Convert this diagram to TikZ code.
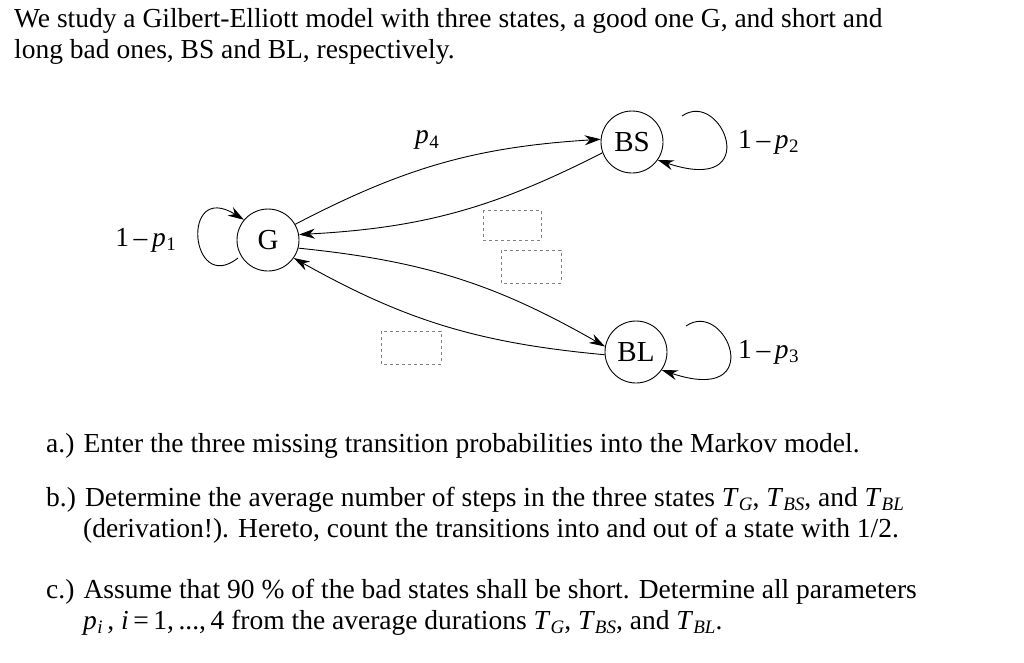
\documentclass[tikz,border=0pt]{standalone}
\usepackage{fontspec}
\setmainfont{Liberation Serif}
\usetikzlibrary{arrows.meta}
\newcommand{\vp}[1]{\textit{p}\kern0.5pt\raisebox{-4.5pt}{\fontsize{19}{19}\selectfont #1}}
\newcommand{\vT}[1]{\textit{T}\raisebox{-4.5pt}{\fontsize{19}{19}\selectfont\textit{#1}}}
\begin{document}
\begin{tikzpicture}[x=1pt,y=-1pt,
  txt/.style={anchor=base west,inner sep=0pt,font=\fontsize{27.5}{30}\selectfont},
  st/.style={circle,draw,minimum size=62pt,inner sep=0pt,line width=0.9pt,font=\fontsize{29}{29}\selectfont},
  edge/.style={line width=0.9pt,-{Stealth[length=16pt,width=10pt]}},
  dbox/.style={draw=gray,dashed,line width=0.6pt},
  lbl/.style={inner sep=0pt,font=\fontsize{27.5}{30}\selectfont}]
\useasboundingbox (0,0) rectangle (1024,662);
\node[txt] (t1) at (14,27) {We study a Gilbert-Elliott model with three states, a good one G, and short and};
\node[txt] (t2) at (14,58) {long bad ones, BS and BL, respectively.};
\node[st] (G) at (268,240) {G};
\node[st] (BS) at (632,142) {BS};
\node[st] (BL) at (636,352) {BL};
\draw[edge] (G.30) to[bend left=12] (BS.175);
\draw[edge] (BS.200) to[bend left=12] (G.10);
\draw[edge] (G.-15) to[bend left=12] (BL.170);
\draw[edge] (BL.185) to[bend left=12] (G.-35);
\coordinate (g1) at (238,258);
\coordinate (s1) at (682,116);
\coordinate (b1) at (686,326);
\draw[edge] (g1) .. controls (190,296) and (180,180) .. (G.140);
\draw[edge] (s1) .. controls (722,88) and (765,196) .. (BS.-35);
\draw[edge] (b1) .. controls (726,298) and (769,406) .. (BL.-35);
\node[lbl] (l4) at (427,140) {\vp{4}};
\node[lbl,anchor=west] (l2) at (738,142) {1\,–\,\vp{2}};
\node[lbl,anchor=east] (l1) at (176,240) {1\,–\,\vp{1}};
\node[lbl,anchor=west] (l3) at (738,352) {1\,–\,\vp{3}};
\draw[dbox] (483,210) rectangle (541,240);
\draw[dbox] (501,250) rectangle (561,283);
\draw[dbox] (381,331) rectangle (441,364);
\node[txt] (a) at (46,452) {a.) Enter the three missing transition probabilities into the Markov model.};
\node[txt] (b1t) at (46,506) {b.) Determine the average number of steps in the three states \vT{G}, \vT{BS}, and \vT{BL}};
\node[txt] (b2) at (83,537) {(derivation!). Hereto, count the transitions into and out of a state with 1/2.};
\node[txt] (c1) at (46,598) {c.) Assume that 90 \% of the bad states shall be short. Determine all parameters};
\node[txt] (c2) at (83,629) {\vp{\textit{i}}\,, \textit{i}\,=\,1,\,...,\,4 from the average durations \vT{G}, \vT{BS}, and \vT{BL}.};
\end{tikzpicture}
\end{document}
